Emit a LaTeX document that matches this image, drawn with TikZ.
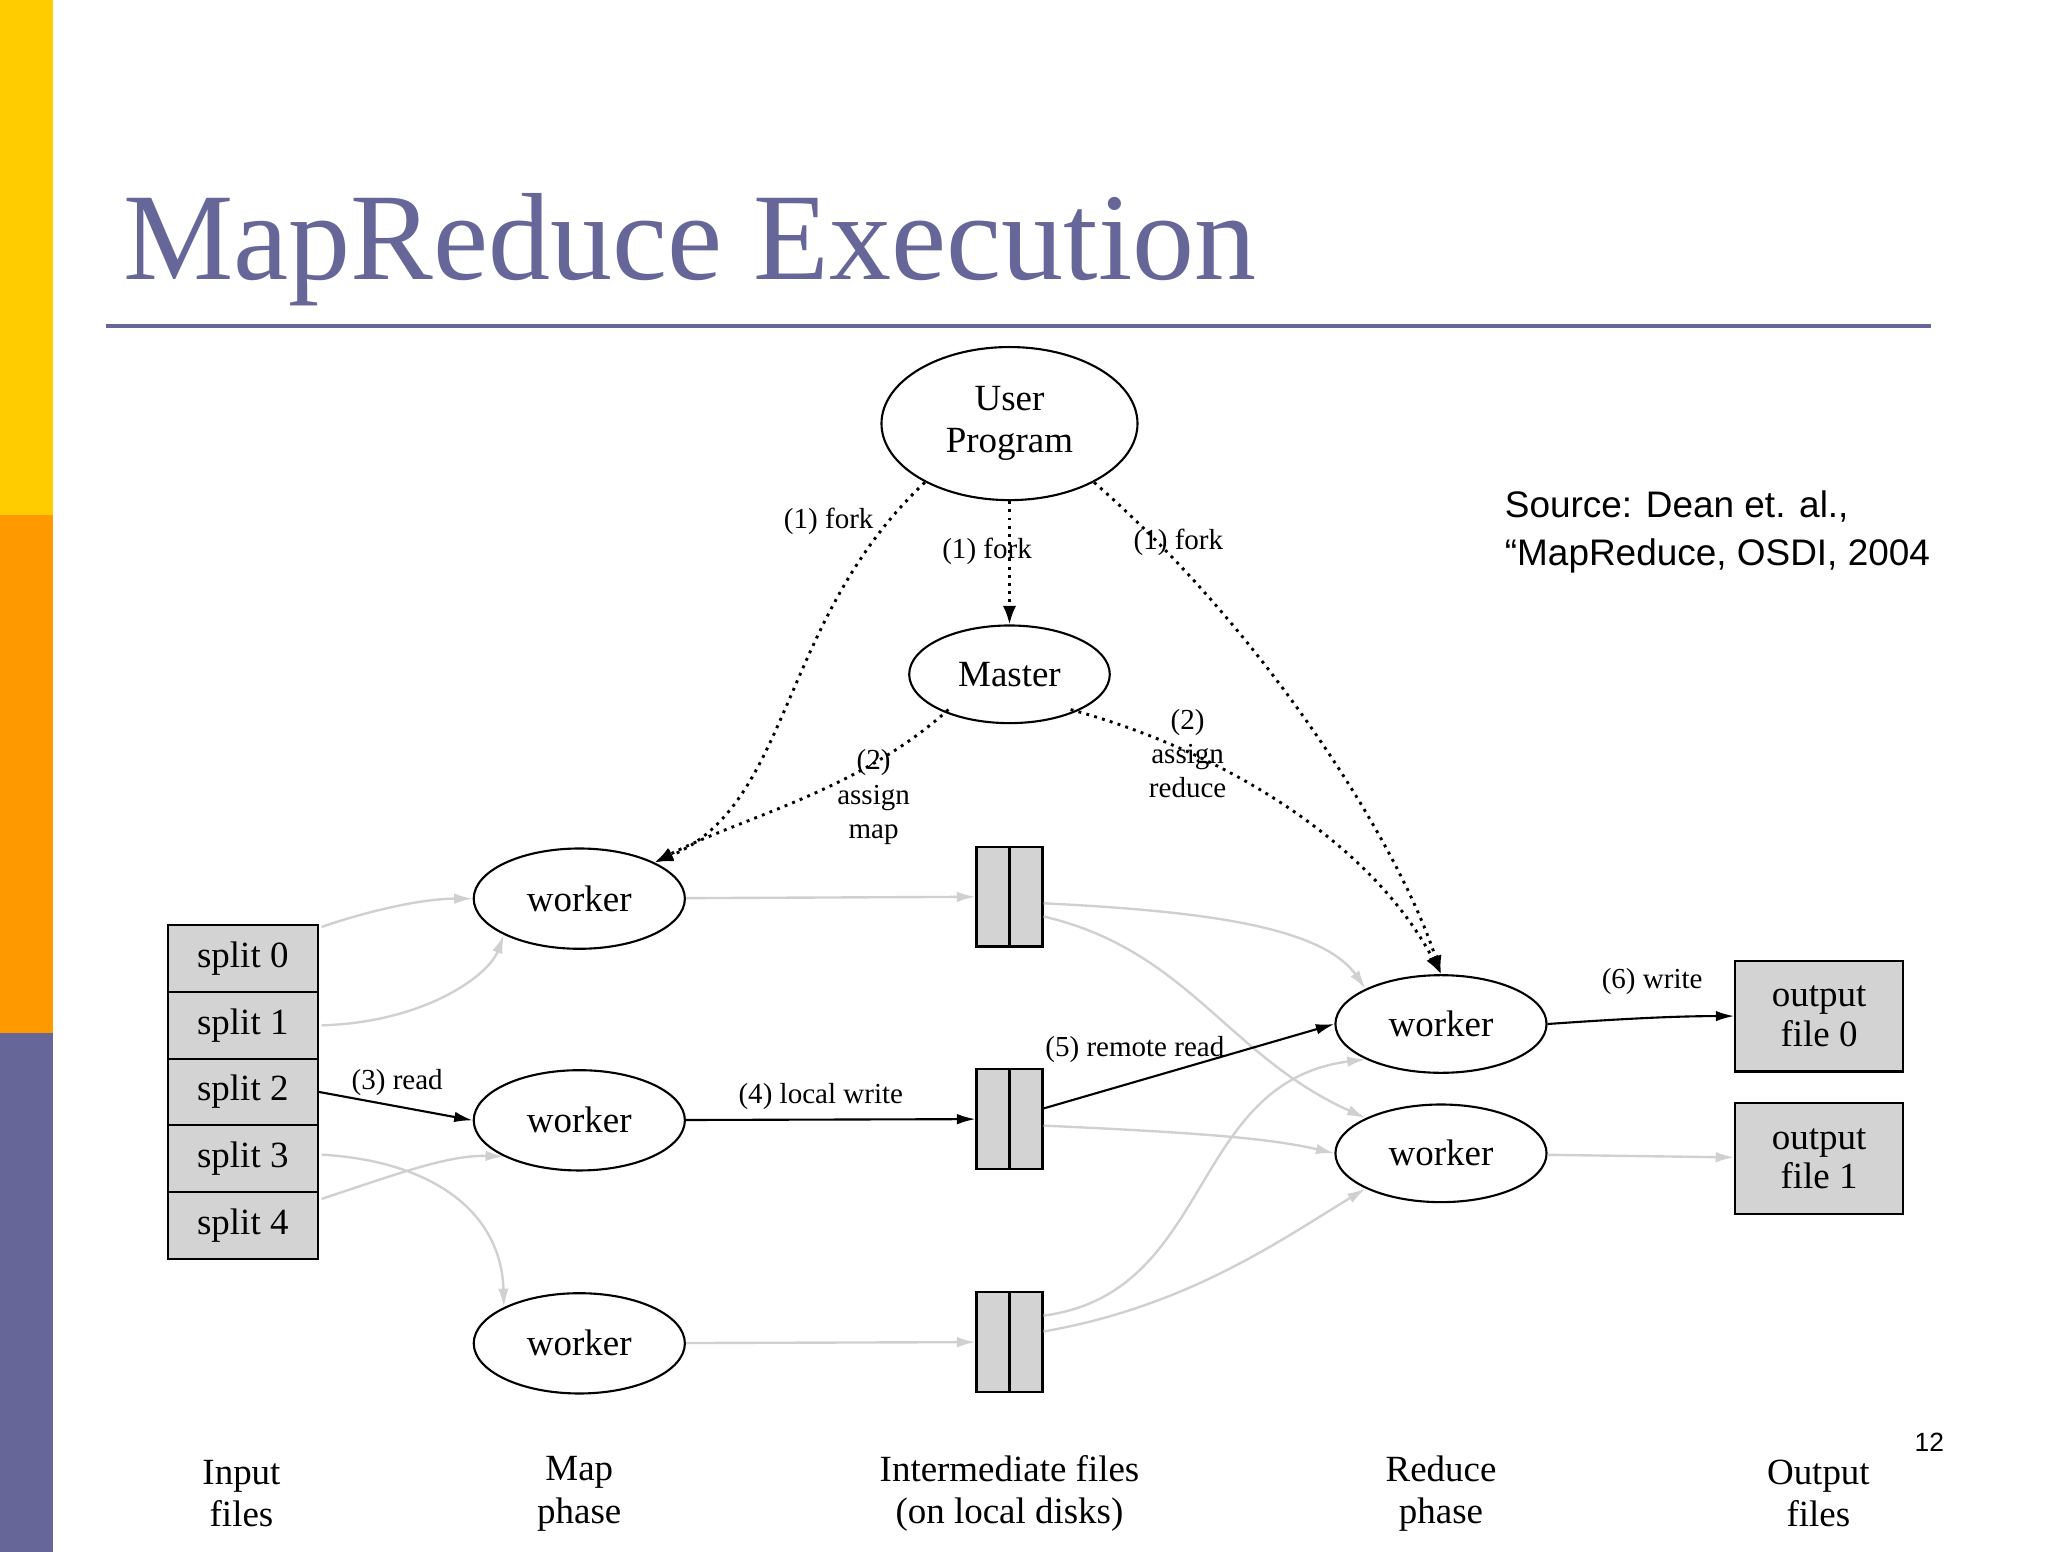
\documentclass[tikz,border=0pt]{standalone}
\usepackage{fontspec}
\setmainfont{Liberation Serif}
\newfontfamily\srcfont{Liberation Sans}
\usetikzlibrary{shapes.geometric,arrows.meta}
\definecolor{ttl}{HTML}{666699}
\definecolor{yel}{HTML}{FFCC00}
\definecolor{org}{HTML}{FF9900}
\definecolor{lg}{HTML}{D0D0D0}
\definecolor{bx}{HTML}{D3D3D3}
\begin{document}
\begin{tikzpicture}[x=0.5pt,y=-0.5pt,
 ell/.style={ellipse,draw,line width=0.8pt,inner sep=0pt,font=\fontsize{14}{16}\selectfont},
 lab/.style={font=\fontsize{11}{13}\selectfont,align=center,inner sep=1pt},
 big/.style={font=\fontsize{14}{16}\selectfont,align=center},
 dots/.style={dotted,line width=1.1pt,-{Latex[length=7pt,width=5pt]}},
 blk/.style={line width=0.8pt,-{Latex[length=7pt,width=4pt]}},
 gry/.style={lg,line width=0.9pt,-{Latex[length=7pt,width=4pt]}},
 sbox/.style={draw,fill=bx,line width=0.8pt,minimum width=57pt,minimum height=25.3pt,inner sep=0pt,font=\fontsize{14}{16}\selectfont},
 obox/.style={draw,fill=bx,line width=0.8pt,minimum width=63.5pt,minimum height=42pt,inner sep=0pt,align=center,font=\fontsize{14}{15}\selectfont}]
\useasboundingbox (0,0) rectangle (1552,1176);
\fill[white] (0,0) rectangle (1552,1176);
\fill[yel] (0,0) rectangle (40,390);
\fill[org] (0,390) rectangle (40,783);
\fill[ttl] (0,783) rectangle (40,1176);
\node[anchor=base west,text=ttl,font=\fontsize{47}{50}\selectfont,inner sep=0pt] (title) at (93,212) {MapReduce Execution};
\draw[ttl,line width=1.6pt] (80,247) -- (1463,247);
\node[anchor=west,font=\srcfont\fontsize{14}{18}\selectfont,align=left,inner sep=0pt] (src) at (1140,403) {Source: Dean et. al.,\\“MapReduce, OSDI, 2004};
\node[font=\srcfont\fontsize{10}{12}\selectfont] (pg) at (1462,1093) {12};
% nodes
\node[ell,minimum width=97pt,minimum height=58pt,align=center,font=\fontsize{14}{16}\selectfont] (up) at (765,321) {User\\Program};
\node[ell,minimum width=76pt,minimum height=37pt] (m) at (765,511) {Master};
\node[ell,minimum width=80pt,minimum height=38pt] (w1) at (439,681) {worker};
\node[ell,minimum width=80pt,minimum height=38pt] (w2) at (439,849) {worker};
\node[ell,minimum width=80pt,minimum height=38pt] (w3) at (439,1018) {worker};
\node[ell,minimum width=80pt,minimum height=37pt] (r1) at (1092,776) {worker};
\node[ell,minimum width=80pt,minimum height=37pt] (r2) at (1092,874) {worker};
\foreach \i/\y in {0/726.5,1/777,2/827.5,3/878,4/928.5}
  \node[sbox] (s\i) at (184,\y) {split \i};
\foreach \n/\y in {f1/679.5,f2/848,f3/1017}{
  \node[draw,fill=bx,line width=0.8pt,minimum width=25pt,minimum height=37.8pt,inner sep=0pt] (\n) at (765,\y) {};
  \draw[line width=0.8pt] (\n.north) -- (\n.south);}
\node[obox] (o0) at (1378.5,770) {output\\file 0};
\node[obox] (o1) at (1378.5,878) {output\\file 1};
% bottom labels
\node[big] (l1) at (183,1132) {Input\\files};
\node[big] (l2) at (439,1132) {Map\\phase};
\node[big] (l3) at (765,1132) {Intermediate files\\(on local disks)};
\node[big] (l4) at (1092,1132) {Reduce\\phase};
\node[big] (l5) at (1378,1132) {Output\\files};
% dotted
\draw[dots] (up) -- (m);
\node[lab] at (748,418) {(1) fork};
\draw[dots] (up.south west) ++(5,3) .. controls (590,470) and (600,610) .. (w1.north east);
\node[lab] at (628,395) {(1) fork};
\draw[dots] (up.south east) ++(-5,3) .. controls (960,480) and (1060,640) .. (r1.north);
\node[lab] at (893,411) {(1) fork};
\draw[dots] (m.south west) ++(8,0) .. controls (650,600) and (560,620) .. (w1.north east);
\node[lab] at (662,604) {(2)\\assign\\map};
\draw[dots] (m.south east) ++(-8,0) .. controls (930,570) and (1040,640) .. (r1.north);
\node[lab] at (900,571) {(2)\\assign\\reduce};
% gray
\draw[gry] (s0.north east) ++(2,2) .. controls (280,690) and (320,681) .. (w1.west);
\draw[gry] (s1.east) ++(2,0) .. controls (320,775) and (370,740) .. (w1.south west);
\draw[gry] (s3.east) ++(2,-3) .. controls (330,880) and (380,920) .. (w3.north west);
\draw[gry] (s4.east) ++(2,-20) .. controls (300,890) and (340,875) .. (w2.south west);
\draw[gry] (w1) -- (f1);
\draw[gry] (w3) -- (f3);
\draw[gry] (f1.east) ++(0,5) .. controls (900,690) and (1000,700) .. (r1.north west);
\draw[gry] (f1.east) ++(0,15) .. controls (900,720) and (930,800) .. (r2.north west);
\draw[gry] (f2.east) ++(0,5) .. controls (900,858) and (960,862) .. (r2.west);
\draw[gry] (f3.east) ++(0,-20) .. controls (920,980) and (900,820) .. (r1.south west);
\draw[gry] (f3.east) ++(0,-8) .. controls (900,990) and (970,940) .. (r2.south west);
\draw[gry] (r2) -- (o1);
% black
\draw[blk] (s2.east) -- (w2.west);
\node[lab] at (301,820) {(3) read};
\draw[blk] (w2) -- (f2);
\node[lab] at (622,831) {(4) local write};
\draw[blk] (f2.east) ++(0,-8) -- (r1.west);
\node[lab] at (860,795) {(5) remote read};
\draw[blk] (r1.east) .. controls (1230,772) and (1270,770) .. (o0.west);
\node[lab] at (1252,744) {(6) write};
\end{tikzpicture}
\end{document}
